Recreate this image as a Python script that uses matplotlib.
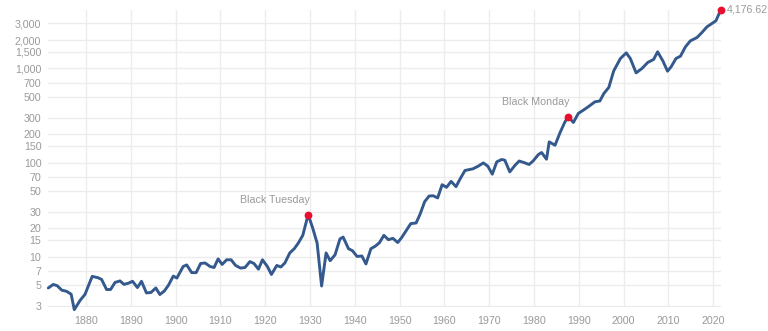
import matplotlib
matplotlib.use("Agg")
import matplotlib.pyplot as plt
from matplotlib.ticker import FixedLocator, FuncFormatter

plt.rcParams['font.family'] = ['Liberation Sans', 'DejaVu Sans']

years = [1871.6, 1872.7, 1873.6, 1874.6, 1875.7, 1876.7, 1877.4, 1878.7, 1879.8, 1880.6,
         1881.4, 1882.7, 1883.5, 1884.6, 1885.5, 1886.5, 1887.6, 1888.5, 1889.5, 1890.4,
         1891.5, 1892.4, 1893.5, 1894.5, 1895.6, 1896.5, 1897.5, 1898.4, 1899.5, 1900.3,
         1901.7, 1902.5, 1903.6, 1904.6, 1905.6, 1906.6, 1907.7, 1908.6, 1909.5, 1910.4,
         1911.4, 1912.4, 1913.4, 1914.5, 1915.5, 1916.6, 1917.5, 1918.5, 1919.4, 1920.5,
         1921.4, 1922.6, 1923.5, 1924.4, 1925.5, 1926.5, 1927.4, 1928.4, 1929.6, 1930.6,
         1931.6, 1932.6, 1933.6, 1934.5, 1935.6, 1936.7, 1937.4, 1938.6, 1939.5, 1940.5,
         1941.6, 1942.5, 1943.6, 1944.5, 1945.5, 1946.5, 1947.5, 1948.5, 1949.6, 1950.5,
         1951.6, 1952.5, 1953.7, 1954.6, 1955.6, 1956.6, 1957.5, 1958.5, 1959.5, 1960.5,
         1961.5, 1962.6, 1963.5, 1964.6, 1966.4, 1967.6, 1968.7, 1969.7, 1970.7, 1971.7,
         1972.8, 1973.5, 1974.6, 1975.8, 1976.7, 1977.8, 1978.9, 1979.8, 1981.0, 1981.7,
         1982.8, 1983.4, 1984.7, 1985.8, 1986.9, 1987.65, 1988.8, 1989.9, 1991.0, 1992.1,
         1993.6, 1994.7, 1995.6, 1996.7, 1997.8, 1999.3, 2000.6, 2001.5, 2002.8, 2004.1,
         2005.4, 2006.7, 2007.6, 2008.8, 2009.8, 2010.6, 2011.7, 2012.7, 2013.8, 2014.9,
         2016.4, 2017.5, 2018.6, 2020.6, 2021.7]
values = [4.67, 5.09, 4.93, 4.43, 4.30, 4.01, 2.75, 3.45, 4.0, 5.0,
          6.2, 6.0, 5.75, 4.5, 4.5, 5.35, 5.55, 5.1, 5.25, 5.5,
          4.72, 5.5, 4.14, 4.18, 4.67, 3.98, 4.34, 4.98, 6.25, 5.95,
          7.9, 8.2, 6.8, 6.8, 8.5, 8.6, 7.9, 7.7, 9.5, 8.3,
          9.3, 9.3, 8.1, 7.6, 7.7, 8.9, 8.5, 7.4, 9.3, 7.9,
          6.5, 8.1, 7.8, 8.6, 11.0, 12.2, 14.0, 16.9, 28.1, 20.3,
          14.0, 4.9, 11.0, 9.1, 10.5, 15.5, 16.2, 12.2, 11.6, 10.1,
          10.2, 8.4, 12.2, 12.9, 14.1, 16.9, 15.2, 15.7, 14.2, 16.1,
          19.4, 22.5, 22.9, 28.5, 38.5, 44.2, 44.5, 42.2, 58.3, 54.7,
          63.2, 55.6, 67.0, 82.5, 86.0, 92.0, 99.3, 91.6, 75.4, 102.0,
          108.0, 106.0, 79.8, 94.0, 104.0, 100.0, 95.5, 104.0, 122.0, 128.0,
          108.7, 166.0, 153.0, 207.0, 270.0, 306.0, 267.0, 333.0, 360.0, 391.0,
          442.0, 451.0, 542.0, 628.0, 942.0, 1275.0, 1462.0, 1275.0, 897.0, 998.0,
          1157.0, 1245.0, 1500.0, 1194.0, 935.0, 1038.0, 1275.0, 1349.0, 1694.0, 1960.0,
          2130.0, 2408.0, 2760.0, 3200.0, 4176.62]

events = ["Black Tuesday", "Black Monday"]
event_years = [1929.6, 1987.65]
event_values = [28.1, 306.0]
last_label = "4,176.62"

y_ticks = [3, 5, 7, 10, 15, 20, 30, 50, 70, 100, 150, 200, 300, 500, 700,
           1000, 1500, 2000, 3000]
x_ticks = list(range(1880, 2021, 10))

line_color = "#34598c"
dot_color = "#e8102e"
text_color = "#9a9a9a"
grid_color = "#ececec"
fs = 7.7

fig = plt.figure(figsize=(7.68, 3.31), dpi=100)
W, H = 768, 331
left, right, top, bottom = 48.3, 720.8, 9.7, 306.5
ax = fig.add_axes([left / W, 1 - bottom / H, (right - left) / W, (bottom - top) / H])

ax.plot(years, values, color=line_color, lw=2.1, solid_joinstyle='round',
        solid_capstyle='round', clip_on=False, zorder=3)
ax.set_yscale('log')
ax.set_xlim(years[0], years[-1])
ax.set_ylim(2.97, 4200)

ax.yaxis.set_major_locator(FixedLocator(y_ticks))
ax.yaxis.set_minor_locator(FixedLocator([]))
ax.yaxis.set_major_formatter(FuncFormatter(lambda v, p: f"{v:,.0f}"))
ax.set_xticks(x_ticks)

for s in ax.spines.values():
    s.set_visible(False)
ax.grid(True, which='major', color=grid_color, lw=1.0)
ax.set_axisbelow(True)
ax.tick_params(axis='both', length=0, colors=text_color, labelsize=fs)
ax.tick_params(axis='y', pad=5)
ax.tick_params(axis='x', pad=7)

for name, ex, ev in zip(events, event_years, event_values):
    ax.plot([ex], [ev], 'o', color=dot_color, ms=4.6, zorder=4, clip_on=False)
    ax.annotate(name, (ex, ev), xytext=(1, 7), textcoords='offset points',
                ha='right', va='bottom', color=text_color, fontsize=fs)

ax.plot([years[-1]], [values[-1]], 'o', color=dot_color, ms=4.6, zorder=4, clip_on=False)
ax.annotate(last_label, (years[-1], values[-1]), xytext=(4, 0), textcoords='offset points',
            ha='left', va='center', color=text_color, fontsize=fs, annotation_clip=False)

fig.savefig("out.png", dpi=100, facecolor='white')
